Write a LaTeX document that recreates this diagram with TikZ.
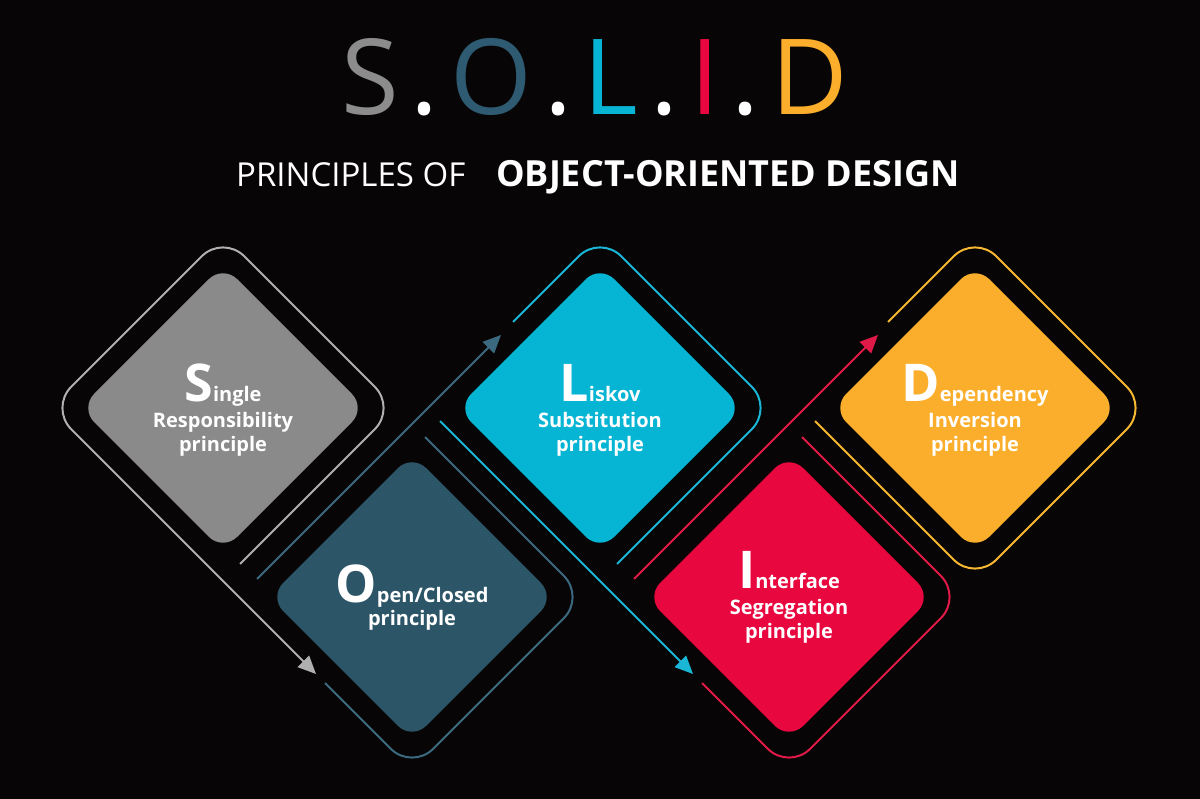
\documentclass[tikz,border=0pt]{standalone}
\usepackage{fontspec}
\setmainfont{Open Sans}
\usetikzlibrary{arrows.meta}
\definecolor{bg}{HTML}{070505}
\definecolor{sfill}{HTML}{8A8A8A}
\definecolor{sline}{HTML}{B0B0B0}
\definecolor{ofill}{HTML}{2D5568}
\definecolor{oline}{HTML}{3B6A80}
\definecolor{lfill}{HTML}{06B4D4}
\definecolor{lline}{HTML}{1AB6D6}
\definecolor{ifill}{HTML}{E8073F}
\definecolor{iline}{HTML}{E01A48}
\definecolor{dfill}{HTML}{FBAE2B}
\definecolor{dline}{HTML}{F7B733}
\definecolor{tS}{HTML}{8C8C8C}
\definecolor{tO}{HTML}{2E5A72}
\begin{document}
\begin{tikzpicture}[x=1pt,y=-1pt,
  dia/.style={rounded corners=20pt},
  outl/.style={line width=2pt, rounded corners=30pt},
  arr/.style={-{Triangle[length=18pt,width=16pt]}},
  lbl/.style={text=white, font=\bfseries\fontsize{20}{24}\selectfont, inner sep=0pt, anchor=base},
  tit/.style={font=\fontsize{105}{105}\selectfont, inner sep=0pt, anchor=base},
  sub/.style={text=white, font=\fontsize{33}{33}\selectfont, inner sep=0pt}]
\fill[bg] (0,0) rectangle (1200,799);
\useasboundingbox (0,0) rectangle (1200,799);

% title
\node[tit, text=tS] (t1) at (370,115) {S};
\node[tit, text=white] (t2) at (424,115) {.};
\node[tit, text=tO] (t3) at (491,115) {O};
\node[tit, text=white] (t4) at (558,115) {.};
\node[tit, text=lfill] (t5) at (611,115) {L};
\node[tit, text=white] (t6) at (664,115) {.};
\node[tit, text=ifill] (t7) at (705,115) {I};
\node[tit, text=white] (t8) at (745,115) {.};
\node[tit, text=dfill] (t9) at (810,115) {D};
\node[sub, anchor=base west] (st1) at (236,187) {PRINCIPLES OF};
\node[sub, anchor=base west, font=\bfseries\fontsize{36}{36}\selectfont] (st2) at (496,187) {OBJECT-ORIENTED DESIGN};

% S
\begin{scope}[shift={(223,408)}]
\fill[sfill, dia] (-143,0) -- (0,-143) -- (143,0) -- (0,143) -- cycle;
\draw[sline, outl, arr] (17,156) -- (173,0) -- (0,-173) -- (-173,0) -- (93,266);
\node[lbl] (s1) at (0,-6) {{\fontsize{52}{52}\selectfont S}ingle};
\node[lbl] (s2) at (0,20) {Responsibility};
\node[lbl] (s3) at (0,44) {principle};
\end{scope}

% O
\begin{scope}[shift={(412,597)}]
\fill[ofill, dia] (-143,0) -- (0,-143) -- (143,0) -- (0,143) -- cycle;
\draw[oline, outl, arr] (-155,-18) -- (89,-262);
\draw[oline, outl] (-87,86) -- (0,173) -- (173,0) -- (13,-160);
\node[lbl] (o1) at (0,5) {{\fontsize{52}{52}\selectfont O}pen/Closed};
\node[lbl] (o2) at (0,28) {principle};
\end{scope}

% L
\begin{scope}[shift={(600,408)}]
\fill[lfill, dia] (-143,0) -- (0,-143) -- (143,0) -- (0,143) -- cycle;
\draw[lline, outl] (-87,-86) -- (0,-173) -- (173,0) -- (17,156);
\draw[lline, outl, arr] (-160,13) -- (93,266);
\node[lbl] (l1) at (0,-6) {{\fontsize{52}{52}\selectfont L}iskov};
\node[lbl] (l2) at (0,20) {Substitution};
\node[lbl] (l3) at (0,44) {principle};
\end{scope}

% I
\begin{scope}[shift={(789,597)}]
\fill[ifill, dia] (-143,0) -- (0,-143) -- (143,0) -- (0,143) -- cycle;
\draw[iline, outl, arr] (-155,-18) -- (89,-262);
\draw[iline, outl] (-87,86) -- (0,173) -- (173,0) -- (13,-160);
\node[lbl] (i1) at (0,-9) {{\fontsize{52}{52}\selectfont I}nterface};
\node[lbl] (i2) at (0,17) {Segregation};
\node[lbl] (i3) at (0,41) {principle};
\end{scope}

% D
\begin{scope}[shift={(975,408)}]
\fill[dfill, dia] (-143,0) -- (0,-143) -- (143,0) -- (0,143) -- cycle;
\draw[dline, outl] (-87,-86) -- (0,-173) -- (173,0) -- (0,173) -- (-160,13);
\node[lbl] (d1) at (0,-6) {{\fontsize{52}{52}\selectfont D}ependency};
\node[lbl] (d2) at (0,20) {Inversion};
\node[lbl] (d3) at (0,44) {principle};
\end{scope}
\end{tikzpicture}
\end{document}
